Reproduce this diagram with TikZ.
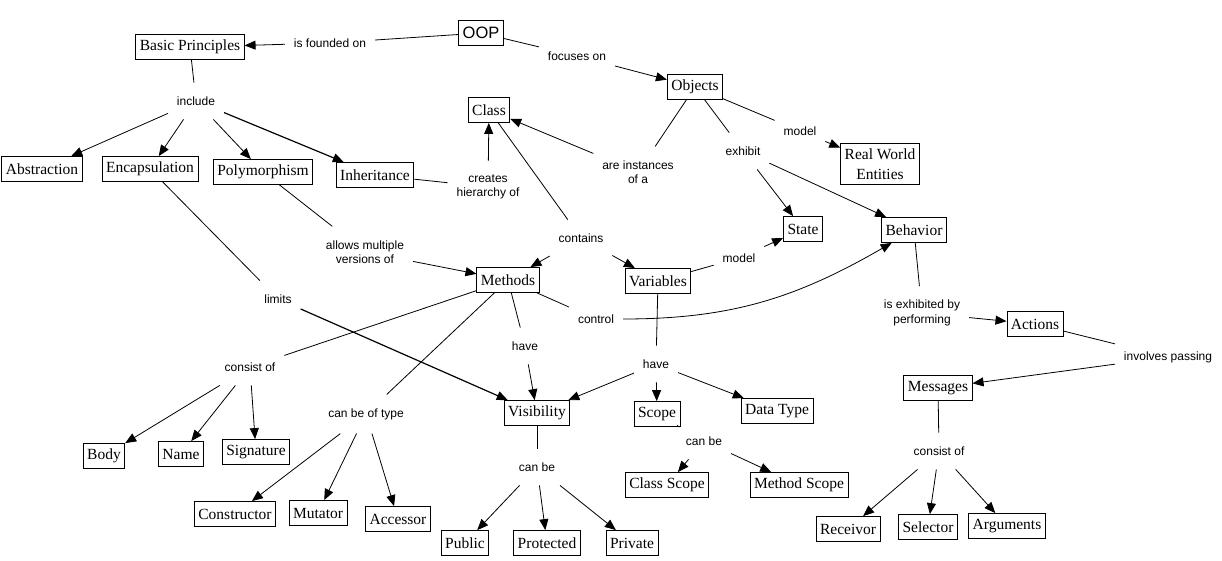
\documentclass[tikz,border=0pt]{standalone}
\usepackage{fontspec}
\setmainfont{Liberation Serif}
\newfontfamily\linkfont{Liberation Sans}
\usepackage{tikz}
\usetikzlibrary{arrows.meta, positioning}

\tikzset{
  concept/.style={draw, line width=0.8pt, font=\fontsize{15.5}{20}\selectfont, inner xsep=4pt, inner ysep=3pt, minimum height=25pt, align=center},
  linkword/.style={font=\linkfont\fontsize{12}{14.5}\selectfont, align=center, inner sep=1pt, outer xsep=8pt, outer ysep=13pt},
  ln/.style={line width=0.8pt},
  rel/.style={ln, -{Triangle[length=11pt,width=9pt]}}
}

\begin{document}
\begin{tikzpicture}[x=1pt, y=-1pt]
    \useasboundingbox (0,0) rectangle (1222,560);

    % Concepts (top)
    \node[concept, font=\linkfont\fontsize{16.5}{20}\selectfont] (oop) at (481,33) {OOP};
    \node[concept] (basic) at (190,47) {Basic Principles};
    \node[concept] (objects) at (695,87) {Objects};
    \node[concept] (class) at (489,110) {Class};
    \node[concept] (abstr) at (42,169) {Abstraction};
    \node[concept] (encap) at (150,169) {Encapsulation};
    \node[concept] (poly) at (263,172) {Polymorphism};
    \node[concept] (inherit) at (375,175) {Inheritance};
    \node[concept, inner ysep=5pt] (rwe) at (880,164) {Real World\\Entities};
    \node[concept] (state) at (803,229) {State};
    \node[concept] (behav) at (914,230) {Behavior};

    % Concepts (middle)
    \node[concept] (methods) at (508,280) {Methods};
    \node[concept] (vars) at (658,281) {Variables};
    \node[concept] (actions) at (1035,324) {Actions};
    \node[concept] (messages) at (938,388) {Messages};
    \node[concept] (visib) at (537,413) {Visibility};
    \node[concept] (scope) at (657,414) {Scope};
    \node[concept] (dtype) at (777,411) {Data Type};

    % Concepts (bottom)
    \node[concept] (body) at (104,456) {Body};
    \node[concept] (name) at (181,454) {Name};
    \node[concept] (sig) at (256,452) {Signature};
    \node[concept] (clsscope) at (667,485) {Class Scope};
    \node[concept] (mthscope) at (799,485) {Method Scope};
    \node[concept] (ctor) at (235,514) {Constructor};
    \node[concept] (mut) at (318,513) {Mutator};
    \node[concept] (acc) at (398,519) {Accessor};
    \node[concept] (pub) at (465,543) {Public};
    \node[concept] (prot) at (547,543) {Protected};
    \node[concept] (priv) at (632,543) {Private};
    \node[concept] (recv) at (848,529) {Receivor};
    \node[concept] (sel) at (928,527) {Selector};
    \node[concept] (args) at (1007,526) {Arguments};

    % Linking phrases
    \node[linkword] (lfounded) at (330,43) {is founded on};
    \node[linkword] (lfocus) at (577,56) {focuses on};
    \node[linkword] (linclude) at (196,101) {include};
    \node[linkword] (lcreates) at (488,187) {creates\\hierarchy of};
    \node[linkword] (linst) at (638,172) {are instances\\of a};
    \node[linkword] (lmodelA) at (800,131) {model};
    \node[linkword] (lexhibit) at (743,151) {exhibit};
    \node[linkword] (lallows) at (365,252) {allows multiple\\versions of};
    \node[linkword] (lcontains) at (581,238) {contains};
    \node[linkword] (lmodelB) at (739,258) {model};
    \node[linkword] (llimits) at (278,299) {limits};
    \node[linkword] (lcontrol) at (596,319) {control};
    \node[linkword] (lperform) at (922,313) {is exhibited by\\performing};
    \node[linkword] (lpassing) at (1168,357) {involves passing};
    \node[linkword] (lconsistM) at (250,367) {consist of};
    \node[linkword] (lhaveM) at (525,346) {have};
    \node[linkword] (lhaveV) at (656,364) {have};
    \node[linkword] (ltype) at (366,414) {can be of type};
    \node[linkword] (lcanV) at (537,467) {can be};
    \node[linkword] (lcanS) at (704,441) {can be};
    \node[linkword] (lconsistG) at (939,451) {consist of};

    % OOP and its principles
    \draw[ln] (oop) -- (lfounded);
    \draw[rel] (lfounded) -- (basic);
    \draw[ln] (oop) -- (lfocus);
    \draw[rel] (lfocus) -- (objects);
    \draw[ln] (basic) -- (linclude);
    \draw[rel] (linclude) -- (abstr);
    \draw[rel] (linclude) -- (encap);
    \draw[rel] (linclude) -- (poly);
    \draw[rel, line width=1.2pt] (linclude) -- (inherit);

    % Objects and classes
    \draw[ln] (objects) -- (linst);
    \draw[rel] (linst) -- (class);
    \draw[ln] (objects) -- (lmodelA);
    \draw[rel] (lmodelA) -- (rwe);
    \draw[ln] (objects) -- (lexhibit);
    \draw[rel] (lexhibit) -- (state);
    \draw[rel] (lexhibit) -- (behav);
    \draw[ln] (inherit) -- (lcreates);
    \draw[rel] (lcreates) -- (class);
    \draw[ln] (class) -- (lcontains);
    \draw[rel] (lcontains) -- (methods);
    \draw[rel] (lcontains) -- (vars);
    \draw[ln] (poly) -- (lallows);
    \draw[rel] (lallows) -- (methods);
    \draw[ln] (encap) -- (llimits);
    \draw[rel, line width=1.2pt] (llimits) -- (visib);
    \draw[ln] (vars) -- (lmodelB);
    \draw[rel] (lmodelB) -- (state);

    % Behavior, actions, messages
    \draw[ln] (methods) -- (lcontrol);
    \draw[rel] (lcontrol) to[out=0, in=210] (behav);
    \draw[ln] (behav) -- (lperform);
    \draw[rel] (lperform) -- (actions);
    \draw[ln] (actions) -- (lpassing);
    \draw[rel] (lpassing) -- (messages);
    \draw[ln] (messages) -- (lconsistG);
    \draw[rel] (lconsistG) -- (recv);
    \draw[rel] (lconsistG) -- (sel);
    \draw[rel] (lconsistG) -- (args);

    % Methods
    \draw[ln] (methods) -- (lconsistM);
    \draw[rel] (lconsistM) -- (body);
    \draw[rel] (lconsistM) -- (name);
    \draw[rel] (lconsistM) -- (sig);
    \draw[ln] (methods) -- (ltype);
    \draw[rel] (ltype) -- (ctor);
    \draw[rel] (ltype) -- (mut);
    \draw[rel] (ltype) -- (acc);
    \draw[ln] (methods) -- (lhaveM);
    \draw[rel] (lhaveM) -- (visib);

    % Variables
    \draw[ln] (vars) -- (lhaveV);
    \draw[rel] (lhaveV) -- (visib);
    \draw[rel] (lhaveV) -- (scope);
    \draw[rel] (lhaveV) -- (dtype);
    \draw[ln] (visib) -- (lcanV);
    \draw[rel] (lcanV) -- (pub);
    \draw[rel] (lcanV) -- (prot);
    \draw[rel] (lcanV) -- (priv);
    \draw[ln] (scope) -- (lcanS);
    \draw[rel] (lcanS) -- (clsscope);
    \draw[rel] (lcanS) -- (mthscope);
\end{tikzpicture}
\end{document}
